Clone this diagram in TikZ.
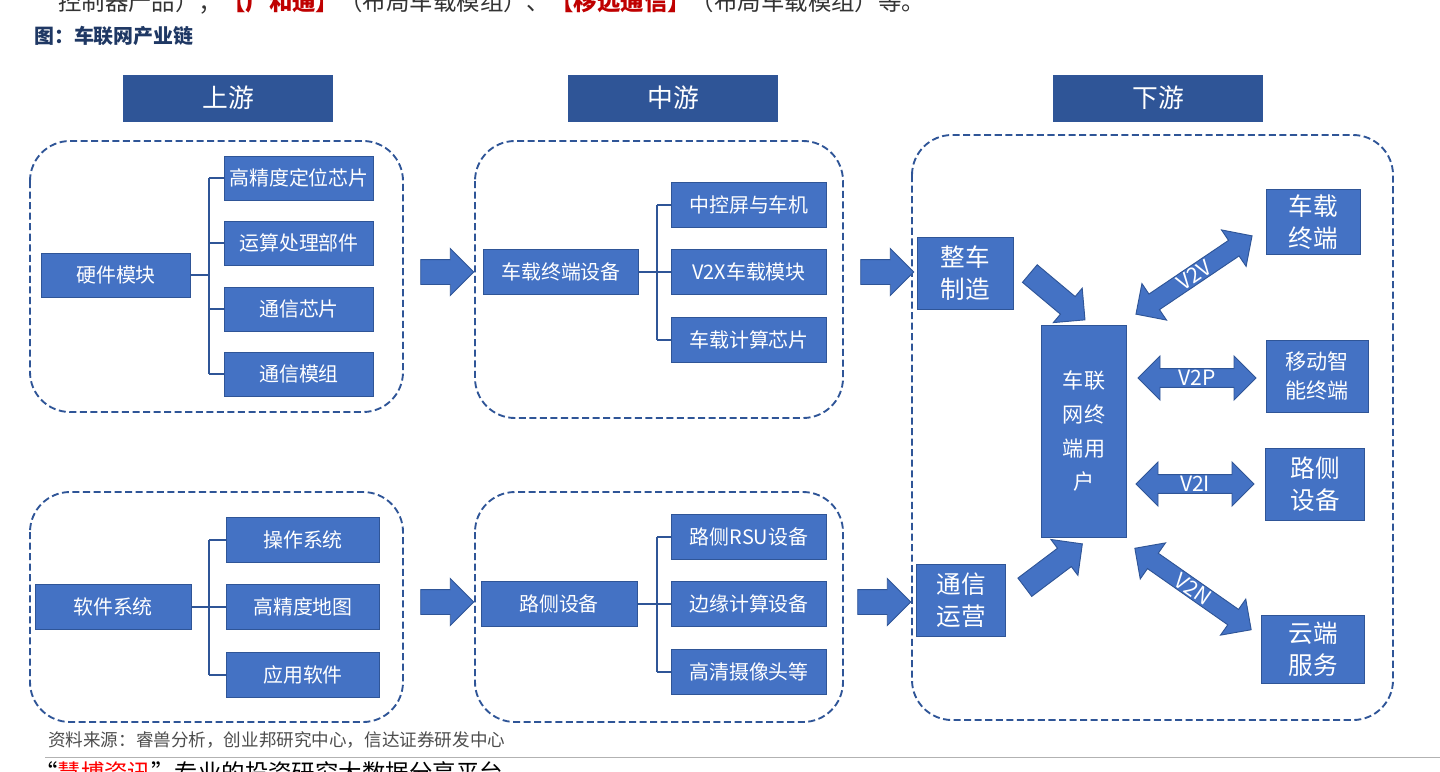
\documentclass[tikz,border=0pt]{standalone}
\usepackage{fontspec}
\setmainfont{Noto Sans CJK SC}
\newfontfamily\cjkfont{Noto Sans CJK SC}
\usetikzlibrary{shapes.arrows}
\definecolor{boxblue}{HTML}{4472C4}
\definecolor{darkblue}{HTML}{2F5597}
\definecolor{titleblue}{HTML}{1F3864}
\tikzset{
  box/.style={draw=darkblue,fill=boxblue,text=white,line width=0.8pt,inner sep=0pt,font=\fontsize{17}{20}\selectfont,align=center},
  head/.style={fill=darkblue,text=white,inner sep=0pt,minimum width=210*0.03cm,minimum height=47*0.03cm,font=\fontsize{22}{24}\selectfont},
  group/.style={draw=darkblue,dashed,line width=1.6pt,rounded corners=40*0.03cm,dash pattern=on 6pt off 3pt},
  link/.style={draw=darkblue,line width=1pt},
  fat/.style={single arrow,draw=darkblue,fill=boxblue,line width=0.8pt,inner xsep=0pt,inner ysep=12*0.03cm,minimum width=46*0.03cm,single arrow head extend=11*0.03cm,single arrow head indent=0pt},
  twin/.style={double arrow,draw=darkblue,fill=boxblue,text=white,line width=0.8pt,inner xsep=0pt,inner ysep=0pt,minimum width=44*0.03cm,double arrow head extend=11*0.03cm,font=\fontsize{18}{18}\selectfont},
}
\begin{document}
\begin{tikzpicture}[x=0.03cm,y=-0.03cm]
  \useasboundingbox (0,0) rectangle (1440,771);
  % cut-off page text
  \node[anchor=base west,inner sep=0pt,font=\fontsize{20}{22}\selectfont,text=black!80] (topline) at (58,10)
    {控制器产品）；\textcolor{red!75!black}{\bfseries【广和通】}（布局车载模组）、\textcolor{red!75!black}{\bfseries【移远通信】}（布局车载模组）等。};
  \node[anchor=west,inner sep=0pt,font=\bfseries\fontsize{17}{18}\selectfont,text=titleblue] (title) at (34,36) {图：车联网产业链};
  % headers
  \node[head] (up) at (228,98) {上游};
  \node[head] (mid) at (673,98) {中游};
  \node[head] (down) at (1158,98) {下游};
  % dashed groups
  \draw[group] (30,141) rectangle (403,412);
  \draw[group] (475,141) rectangle (843,418);
  \draw[group] (30,492) rectangle (403,722);
  \draw[group] (475,492) rectangle (843,722);
  \draw[group] (912,135) rectangle (1393,720);
  % upstream hardware
  \node[box,minimum width=149*0.03cm,minimum height=44*0.03cm] (hw) at (116,275) {硬件模块};
  \node[box,minimum width=149*0.03cm,minimum height=44*0.03cm] (hw1) at (299,178) {高精度定位芯片};
  \node[box,minimum width=149*0.03cm,minimum height=44*0.03cm] (hw2) at (299,243) {运算处理部件};
  \node[box,minimum width=149*0.03cm,minimum height=44*0.03cm] (hw3) at (299,309) {通信芯片};
  \node[box,minimum width=149*0.03cm,minimum height=44*0.03cm] (hw4) at (299,374) {通信模组};
  \coordinate (hwbus) at (209,275);
  \draw[link] (hw.east) -- (hwbus);
  \draw[link] (hwbus |- hw1.west) -- (hwbus |- hw4.west);
  \foreach \n in {hw1,hw2,hw3,hw4} \draw[link] (hwbus |- \n.west) -- (\n.west);
  % upstream software
  \node[box,minimum width=156*0.03cm,minimum height=45*0.03cm] (sw) at (113,607) {软件系统};
  \node[box,minimum width=153*0.03cm,minimum height=45*0.03cm] (sw1) at (303,540) {操作系统};
  \node[box,minimum width=153*0.03cm,minimum height=45*0.03cm] (sw2) at (303,607) {高精度地图};
  \node[box,minimum width=153*0.03cm,minimum height=45*0.03cm] (sw3) at (303,675) {应用软件};
  \coordinate (swbus) at (209,607);
  \draw[link] (sw.east) -- (swbus);
  \draw[link] (swbus |- sw1.west) -- (swbus |- sw3.west);
  \foreach \n in {sw1,sw2,sw3} \draw[link] (swbus |- \n.west) -- (\n.west);
  % midstream terminals
  \node[box,minimum width=155*0.03cm,minimum height=45*0.03cm] (term) at (561,272) {车载终端设备};
  \node[box,minimum width=155*0.03cm,minimum height=45*0.03cm] (term1) at (749,205) {中控屏与车机};
  \node[box,minimum width=155*0.03cm,minimum height=45*0.03cm] (term2) at (749,272) {V2X车载模块};
  \node[box,minimum width=155*0.03cm,minimum height=45*0.03cm] (term3) at (749,340) {车载计算芯片};
  \coordinate (termbus) at (657,272);
  \draw[link] (term.east) -- (termbus);
  \draw[link] (termbus |- term1.west) -- (termbus |- term3.west);
  \foreach \n in {term1,term2,term3} \draw[link] (termbus |- \n.west) -- (\n.west);
  % midstream roadside
  \node[box,minimum width=156*0.03cm,minimum height=45*0.03cm] (rsu) at (559,604) {路侧设备};
  \node[box,minimum width=155*0.03cm,minimum height=45*0.03cm] (rsu1) at (749,537) {路侧RSU设备};
  \node[box,minimum width=155*0.03cm,minimum height=45*0.03cm] (rsu2) at (749,604) {边缘计算设备};
  \node[box,minimum width=155*0.03cm,minimum height=45*0.03cm] (rsu3) at (749,672) {高清摄像头等};
  \coordinate (rsubus) at (657,604);
  \draw[link] (rsu.east) -- (rsubus);
  \draw[link] (rsubus |- rsu1.west) -- (rsubus |- rsu3.west);
  \foreach \n in {rsu1,rsu2,rsu3} \draw[link] (rsubus |- \n.west) -- (\n.west);
  % stage arrows
  \node[fat,minimum height=53*0.03cm] (a1) at (441,272) {};
  \node[fat,minimum height=53*0.03cm] (a2) at (881,272) {};
  \node[fat,minimum height=53*0.03cm] (a3) at (441,602) {};
  \node[fat,minimum height=53*0.03cm] (a4) at (878,602) {};
  % downstream
  \node[box,minimum width=96*0.03cm,minimum height=72*0.03cm,font=\fontsize{21}{27}\selectfont] (car) at (965,273) {整车\\制造};
  \node[box,minimum width=89*0.03cm,minimum height=72*0.03cm,font=\fontsize{21}{27}\selectfont] (ops) at (961,600) {通信\\运营};
  \node[box,minimum width=85*0.03cm,minimum height=212*0.03cm,font=\fontsize{18}{29}\selectfont] (user) at (1084,431) {车联\\网终\\端用\\户};
  \node[box,minimum width=94*0.03cm,minimum height=65*0.03cm,font=\fontsize{21}{27}\selectfont] (veh) at (1313,222) {车载\\终端};
  \node[box,minimum width=102*0.03cm,minimum height=72*0.03cm,font=\fontsize{18}{25}\selectfont] (mob) at (1317,376) {移动智\\能终端};
  \node[box,minimum width=99*0.03cm,minimum height=72*0.03cm,font=\fontsize{21}{27}\selectfont] (road) at (1315,484) {路侧\\设备};
  \node[box,minimum width=103*0.03cm,minimum height=68*0.03cm,font=\fontsize{21}{27}\selectfont] (cloud) at (1313,649) {云端\\服务};
  \node[fat,minimum height=72*0.03cm,minimum width=44*0.03cm,inner ysep=11*0.03cm,rotate=-40] (carin) at (1053,293) {};
  \node[fat,minimum height=72*0.03cm,minimum width=44*0.03cm,inner ysep=11*0.03cm,rotate=37] (opsin) at (1049,569) {};
  \node[twin,minimum height=140*0.03cm,rotate=34] (v2v) at (1194,275) {V2V};
  \node[twin,minimum height=118*0.03cm] (v2p) at (1197,378) {V2P};
  \node[twin,minimum height=118*0.03cm] (v2i) at (1195,484) {V2I};
  \node[twin,minimum height=142*0.03cm,rotate=-35] (v2n) at (1193,589) {V2N};
  % source and footer
  \node[anchor=west,inner sep=0pt,font=\itshape\fontsize{15}{16}\selectfont,text=black!70] (src) at (48,740) {资料来源：睿兽分析，创业邦研究中心，信达证券研发中心};
  \coordinate (ruleL) at (45,757);
  \coordinate (ruleR) at (1440,757);
  \draw[gray!60,line width=0.8pt] (ruleL) -- (ruleR);
  \node[anchor=base west,inner sep=0pt,font=\fontsize{20}{22}\selectfont] (foot) at (34,781) {“\textcolor{red}{慧博资讯}”专业的投资研究大数据分享平台};
\end{tikzpicture}
\end{document}
